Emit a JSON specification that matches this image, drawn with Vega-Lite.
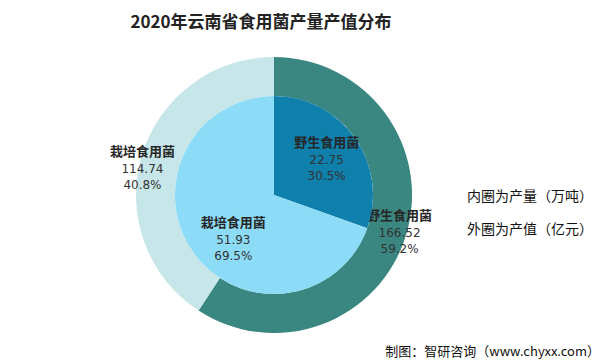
{
  "$schema": "https://vega.github.io/schema/vega-lite/v6.json",
  "autosize": {"type": "none"},
  "width": 548,
  "height": 338,
  "padding": {"left": 0, "top": 26, "right": 58, "bottom": 0},
  "background": "#ffffff",
  "config": {"view": {"stroke": null}, "font": "Noto Sans CJK SC"},
  "title": {
    "text": "2020年云南省食用菌产量产值分布",
    "font": "Noto Sans CJK SC",
    "fontSize": 17,
    "fontWeight": "bold",
    "color": "#222222",
    "anchor": "middle",
    "dx": -13,
    "offset": -6
  },
  "data": {
    "values": [
      {"ring": "inner", "type": "野生食用菌", "rank": 1, "value": 22.75, "pct": 0.305},
      {"ring": "inner", "type": "栽培食用菌", "rank": 2, "value": 51.93, "pct": 0.695},
      {"ring": "outer", "type": "野生食用菌", "rank": 1, "value": 166.52, "pct": 0.592},
      {"ring": "outer", "type": "栽培食用菌", "rank": 2, "value": 114.74, "pct": 0.408}
    ]
  },
  "resolve": {"scale": {"theta": "independent"}},
  "layer": [
    {
      "transform": [{"filter": "datum.ring === 'outer'"}],
      "layer": [
        {
          "mark": {"type": "arc", "innerRadius": 99, "outerRadius": 138},
          "encoding": {
            "theta": {"field": "value", "type": "quantitative", "stack": true},
            "order": {"field": "rank", "type": "quantitative"},
            "color": {"field": "type", "type": "nominal", "legend": null,
              "scale": {"domain": ["野生食用菌", "栽培食用菌"], "range": ["#3A8681", "#C7E6E9"]}}
          }
        },
        {
          "mark": {"type": "text", "radius": 131, "fontSize": 13, "fontWeight": "bold", "color": "#262626", "font": "Noto Sans CJK SC",
            "dx": {"expr": "datum.type === '栽培食用菌' ? -6 : 0"},
            "dy": {"expr": "datum.type === '栽培食用菌' ? -6 : -16"}},
          "encoding": {
            "theta": {"field": "value", "type": "quantitative", "stack": true},
            "order": {"field": "rank", "type": "quantitative"},
            "text": {"field": "type", "type": "nominal"}
          }
        },
        {
          "mark": {"type": "text", "radius": 131, "fontSize": 12, "color": "#333333", "font": "DejaVu Sans",
            "dx": {"expr": "datum.type === '栽培食用菌' ? -6 : 0"},
            "dy": {"expr": "datum.type === '栽培食用菌' ? 11 : 1"}},
          "encoding": {
            "theta": {"field": "value", "type": "quantitative", "stack": true},
            "order": {"field": "rank", "type": "quantitative"},
            "text": {"field": "value", "type": "quantitative", "format": ".2f"}
          }
        },
        {
          "mark": {"type": "text", "radius": 131, "fontSize": 12, "color": "#333333", "font": "DejaVu Sans",
            "dx": {"expr": "datum.type === '栽培食用菌' ? -6 : 0"},
            "dy": {"expr": "datum.type === '栽培食用菌' ? 27 : 17"}},
          "encoding": {
            "theta": {"field": "value", "type": "quantitative", "stack": true},
            "order": {"field": "rank", "type": "quantitative"},
            "text": {"field": "pct", "type": "quantitative", "format": ".1%"}
          }
        }
      ]
    },
    {
      "transform": [{"filter": "datum.ring === 'inner'"}],
      "layer": [
        {
          "mark": {"type": "arc", "innerRadius": 0, "outerRadius": 99},
          "encoding": {
            "theta": {"field": "value", "type": "quantitative", "stack": true},
            "order": {"field": "rank", "type": "quantitative"},
            "fill": {"field": "type", "type": "nominal", "legend": null,
              "scale": {"domain": ["野生食用菌", "栽培食用菌"], "range": ["#0F7FAB", "#8DDCF7"]}}
          }
        },
        {
          "mark": {"type": "text", "radius": 62, "fontSize": 13, "fontWeight": "bold", "color": "#262626", "font": "Noto Sans CJK SC",
            "dx": {"expr": "datum.type === '栽培食用菌' ? 10 : 2"},
            "dy": {"expr": "datum.type === '栽培食用菌' ? -8 : -16"}},
          "encoding": {
            "theta": {"field": "value", "type": "quantitative", "stack": true},
            "order": {"field": "rank", "type": "quantitative"},
            "text": {"field": "type", "type": "nominal"}
          }
        },
        {
          "mark": {"type": "text", "radius": 62, "fontSize": 12, "color": "#333333", "font": "DejaVu Sans",
            "dx": {"expr": "datum.type === '栽培食用菌' ? 10 : 2"},
            "dy": {"expr": "datum.type === '栽培食用菌' ? 9 : 1"}},
          "encoding": {
            "theta": {"field": "value", "type": "quantitative", "stack": true},
            "order": {"field": "rank", "type": "quantitative"},
            "text": {"field": "value", "type": "quantitative", "format": ".2f"}
          }
        },
        {
          "mark": {"type": "text", "radius": 62, "fontSize": 12, "color": "#333333", "font": "DejaVu Sans",
            "dx": {"expr": "datum.type === '栽培食用菌' ? 10 : 2"},
            "dy": {"expr": "datum.type === '栽培食用菌' ? 25 : 17"}},
          "encoding": {
            "theta": {"field": "value", "type": "quantitative", "stack": true},
            "order": {"field": "rank", "type": "quantitative"},
            "text": {"field": "pct", "type": "quantitative", "format": ".1%"}
          }
        }
      ]
    },
    {
      "data": {"values": [{"note": "内圈为产量（万吨）"}]},
      "mark": {"type": "text", "align": "left", "baseline": "middle", "fontSize": 14, "color": "#111111", "font": "Noto Sans CJK SC", "x": 467, "y": 171},
      "encoding": {"text": {"field": "note", "type": "nominal"}}
    },
    {
      "data": {"values": [{"note": "外圈为产值（亿元）"}]},
      "mark": {"type": "text", "align": "left", "baseline": "middle", "fontSize": 14, "color": "#111111", "font": "Noto Sans CJK SC", "x": 467, "y": 204},
      "encoding": {"text": {"field": "note", "type": "nominal"}}
    },
    {
      "data": {"values": [{"note": "制图：智研咨询（www.chyxx.com）"}]},
      "mark": {"type": "text", "align": "right", "baseline": "middle", "fontSize": 13, "color": "#111111", "font": "Noto Sans CJK SC", "x": 600, "y": 326},
      "encoding": {"text": {"field": "note", "type": "nominal"}}
    }
  ]
}
